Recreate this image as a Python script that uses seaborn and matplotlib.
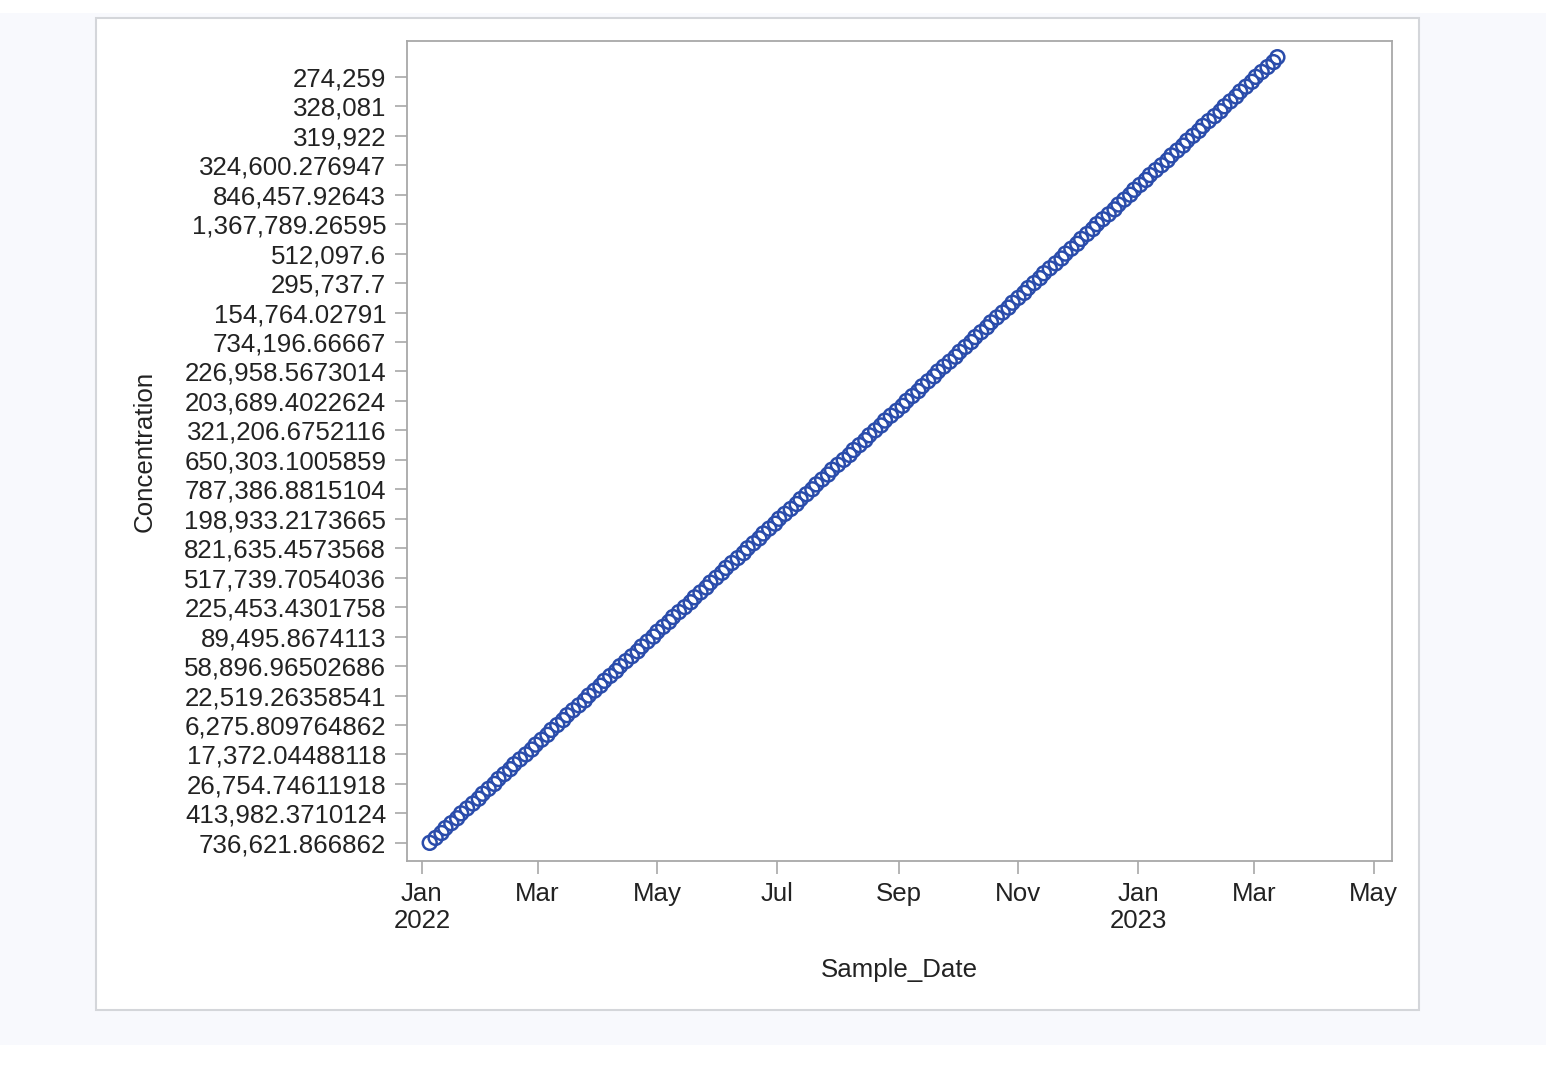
import pandas as pd
import numpy as np
import matplotlib
matplotlib.use("Agg")
import matplotlib.pyplot as plt
import matplotlib.dates as mdates
from matplotlib.patches import Rectangle
import seaborn as sns

# sample dates, in data order (each row has its own Concentration category)
sample_dates = [
    "2022-01-05", "2022-01-08", "2022-01-11", "2022-01-13", "2022-01-16",
    "2022-01-19", "2022-01-21", "2022-01-24", "2022-01-27", "2022-01-30",
    "2022-02-01", "2022-02-04", "2022-02-07", "2022-02-09", "2022-02-12",
    "2022-02-15", "2022-02-17", "2022-02-20", "2022-02-23", "2022-02-26",
    "2022-02-28", "2022-03-03", "2022-03-06", "2022-03-08", "2022-03-11",
    "2022-03-14", "2022-03-16", "2022-03-19", "2022-03-22", "2022-03-25",
    "2022-03-27", "2022-03-30", "2022-04-02", "2022-04-04", "2022-04-07",
    "2022-04-10", "2022-04-12", "2022-04-15", "2022-04-18", "2022-04-21",
    "2022-04-23", "2022-04-26", "2022-04-29", "2022-05-01", "2022-05-04",
    "2022-05-07", "2022-05-09", "2022-05-12", "2022-05-15", "2022-05-18",
    "2022-05-20", "2022-05-23", "2022-05-26", "2022-05-28", "2022-05-31",
    "2022-06-03", "2022-06-05", "2022-06-08", "2022-06-11", "2022-06-14",
    "2022-06-16", "2022-06-19", "2022-06-22", "2022-06-24", "2022-06-27",
    "2022-06-30", "2022-07-02", "2022-07-05", "2022-07-08", "2022-07-11",
    "2022-07-13", "2022-07-16", "2022-07-19", "2022-07-21", "2022-07-24",
    "2022-07-27", "2022-07-29", "2022-08-01", "2022-08-04", "2022-08-07",
    "2022-08-09", "2022-08-12", "2022-08-15", "2022-08-17", "2022-08-20",
    "2022-08-23", "2022-08-25", "2022-08-28", "2022-08-31", "2022-09-03",
    "2022-09-05", "2022-09-08", "2022-09-11", "2022-09-13", "2022-09-16",
    "2022-09-19", "2022-09-21", "2022-09-24", "2022-09-27", "2022-09-30",
    "2022-10-02", "2022-10-05", "2022-10-08", "2022-10-10", "2022-10-13",
    "2022-10-16", "2022-10-18", "2022-10-21", "2022-10-24", "2022-10-27",
    "2022-10-29", "2022-11-01", "2022-11-04", "2022-11-06", "2022-11-09",
    "2022-11-12", "2022-11-14", "2022-11-17", "2022-11-20", "2022-11-23",
    "2022-11-25", "2022-11-28", "2022-12-01", "2022-12-03", "2022-12-06",
    "2022-12-09", "2022-12-11", "2022-12-14", "2022-12-17", "2022-12-20",
    "2022-12-22", "2022-12-25", "2022-12-28", "2022-12-30", "2023-01-02",
    "2023-01-05", "2023-01-07", "2023-01-10", "2023-01-13", "2023-01-16",
    "2023-01-18", "2023-01-21", "2023-01-24", "2023-01-26", "2023-01-29",
    "2023-02-01", "2023-02-03", "2023-02-06", "2023-02-09", "2023-02-12",
    "2023-02-14", "2023-02-17", "2023-02-20", "2023-02-22", "2023-02-25",
    "2023-02-28", "2023-03-02", "2023-03-05", "2023-03-08", "2023-03-11",
    "2023-03-13",
]

# the Concentration categories that carry a visible label, top to bottom
conc_labels = [
    "274,259", "328,081", "319,922", "324,600.276947", "846,457.92643",
    "1,367,789.26595", "512,097.6", "295,737.7", "154,764.02791",
    "734,196.66667", "226,958.5673014", "203,689.4022624", "321,206.6752116",
    "650,303.1005859", "787,386.8815104", "198,933.2173665", "821,635.4573568",
    "517,739.7054036", "225,453.4301758", "89,495.8674113", "58,896.96502686",
    "22,519.26358541", "6,275.809764862", "17,372.04488118", "26,754.74611918",
    "413,982.3710124", "736,621.866862",
]
label_every = 6  # only every 6th category gets a tick label

df = pd.DataFrame({"Sample_Date": pd.to_datetime(sample_dates)})
df["Concentration"] = np.arange(len(df))  # category order = data order

sns.set_style("white")
plt.rcParams["font.family"] = ["Liberation Sans", "DejaVu Sans"]

W, H = 1546, 1066
fig = plt.figure(figsize=(W / 100, H / 100), dpi=100, facecolor="white")

# page background and the graph frame
fig.add_artist(Rectangle((0, 1 - 1045 / H), 1, (1045 - 13) / H, transform=fig.transFigure,
                         facecolor="#f8f9fd", edgecolor="none", zorder=-3))
fig.add_artist(Rectangle((96 / W, 1 - 1010 / H), (1419 - 96) / W, (1010 - 18) / H,
                         transform=fig.transFigure, facecolor="white",
                         edgecolor="#d4d6da", linewidth=1.5, zorder=-2))

ax = fig.add_axes([407 / W, 1 - 861 / H, (1392 - 407) / W, (861 - 41) / H])

sns.scatterplot(data=df, x="Sample_Date", y="Concentration", ax=ax,
                marker="o", s=100, facecolor="none", edgecolor="#2a4cab",
                linewidth=1.8, legend=False)

n_lab = len(conc_labels)
ax.set_yticks(np.arange(n_lab) * label_every)
ax.set_yticklabels(conc_labels[::-1])
ax.set_ylim(-3.7, 163.3)

ax.set_xlim(pd.Timestamp("2021-12-24 10:00"), pd.Timestamp("2023-05-10 10:00"))
ax.xaxis.set_major_locator(mdates.MonthLocator(bymonth=[1, 3, 5, 7, 9, 11]))


def month_fmt(x, pos=None):
    d = mdates.num2date(x)
    if d.month == 1:
        return d.strftime("%b\n%Y")
    return d.strftime("%b")


ax.xaxis.set_major_formatter(plt.FuncFormatter(month_fmt))

for sp in ax.spines.values():
    sp.set_color("#a8a8a8")
    sp.set_linewidth(1.3)
ax.tick_params(axis="both", which="major", left=True, bottom=True, length=9,
               width=1.2, color="#a8a8a8", labelsize=18.6, labelcolor="#222222",
               direction="out")
ax.tick_params(axis="y", pad=6)
ax.tick_params(axis="x", pad=6)
for t in ax.get_xticklabels():
    t.set_linespacing(1.15)

ax.set_xlabel("Sample_Date", fontsize=18.6, color="#222222", labelpad=18)
ax.set_ylabel("Concentration", fontsize=18.6, color="#222222", labelpad=20)

fig.savefig("out.png", dpi=100, facecolor="white")
